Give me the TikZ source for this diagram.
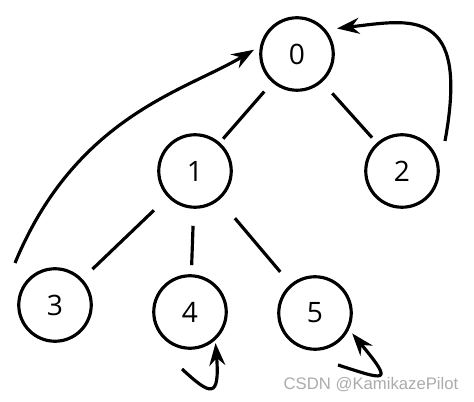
\documentclass[tikz,border=0pt]{standalone}
\usepackage{fontspec}
\setmainfont{Open Sans}
\newfontfamily\wmfont{Liberation Sans}
\usetikzlibrary{arrows.meta}
\begin{document}
\begin{tikzpicture}[x=0.02cm, y=-0.02cm,
  vnode/.style={draw=black, circle, line width=1.8pt, minimum size=1.45cm,
                inner sep=0pt, font=\fontsize{16}{18}\selectfont},
  tedge/.style={-, line width=1.8pt, black},
  backarr/.style={-{Stealth[length=0.45cm,width=0.32cm,inset=0.15cm]},
                  line width=1.8pt, black},
  wmark/.style={text=black!33, font=\wmfont\fontsize{9.5}{11}\selectfont}
]
\useasboundingbox (0,0) rectangle (474,402);
\node[vnode] (n0) at (297,54) {0};
\node[vnode] (n1) at (195,171) {1};
\node[vnode] (n2) at (402,171) {2};
\node[vnode] (n3) at (55,305) {3};
\node[vnode] (n4) at (190,312) {4};
\node[vnode] (n5) at (315,313) {5};

% free ends of the back arrows
\coordinate (s3) at (15,263);
\coordinate (s2) at (445,141);
\coordinate (s4) at (182,369);
\coordinate (s5) at (338,365);

\draw[tedge, shorten <=0.24cm, shorten >=0.1cm] (n0) -- (n1);
\draw[tedge, shorten <=0.3cm, shorten >=0.14cm] (n0) -- (n2);
\draw[tedge, shorten <=0.38cm, shorten >=0.28cm] (n1) -- (n3);
\draw[tedge, shorten <=0.34cm, shorten >=0.18cm] (n1) -- (n4);
\draw[tedge, shorten <=0.48cm, shorten >=0.32cm] (n1) -- (n5);

\draw[backarr, shorten >=0.14cm] (s3) .. controls (76,116) and (185,91) .. (n0.168);
\draw[backarr, shorten >=0.22cm] (s2) .. controls (470,5) and (410,20) .. (n0.40);
\draw[backarr, shorten >=0.06cm] (s4) .. controls (210,395) and (220,400) .. (n4.-48);
\draw[backarr, shorten >=0.1cm] (s5) .. controls (385,380) and (395,385) .. (n5.-26);

\node[wmark] (wm) at (371,385) {CSDN @KamikazePilot};
\end{tikzpicture}
\end{document}
